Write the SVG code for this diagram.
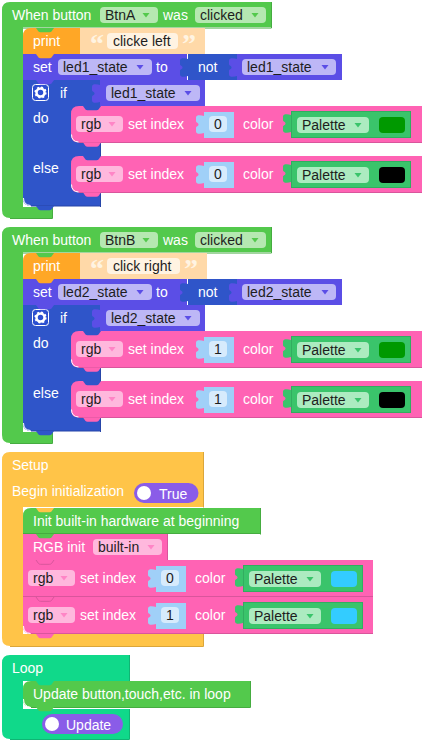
<svg xmlns="http://www.w3.org/2000/svg" xmlns:xlink="http://www.w3.org/1999/xlink" width="428" height="745" viewBox="0 0 428 745">
<style>
text{font-family:"Liberation Sans",Arial,sans-serif;font-size:14px;fill:#fff}
.d{fill:#1d1d1d}
.q{font-family:"Liberation Serif",serif;font-size:28px;font-weight:bold;fill:#fff4e2}
.fg{fill:#b5e8b1}.ag{fill:#53c94c}
.fp{fill:#bdb7f6}.ap{fill:#5b4ee6}
.fk{fill:#ffb8dd}.ak{fill:#ff85c6}
.fl{fill:#acebc0}.al{fill:#3ac46b}
.num{fill:#d7ebfc}
.hl{fill:none;stroke:#fff;stroke-width:1}
</style>
<defs>
<path id="tab" d="M0 0c-3-1-8-1.500-8 1.500v3.500c0 2 2.500 1.500 2.500 3.500s-2.500 1.500-2.500 3.500v3.500c0 3 5 2.500 8 1.500z"/>
<path id="tabd" d="M0 0l2.500 3.500q.8.800 2 .800h9q1.200 0 2-.800l2.500-3.500z"/>
<path id="arw" d="M-3.500 0h7l-3.500 4.500z"/>
<g id="gear"><rect x="0.500" y="0.500" width="16" height="16" rx="3" fill="#2b4fd0" stroke="#fff"/><circle cx="8.500" cy="8.500" r="4" fill="none" stroke="#fff" stroke-width="2.500"/><circle cx="8.500" cy="8.500" r="5.300" fill="none" stroke="#fff" stroke-width="1.600" stroke-dasharray="2 2.160"/></g>
<g id="rgbfields">
<rect x="5" y="10" width="47" height="16" rx="4" class="fk"/><text x="10" y="23" class="d">rgb</text><use href="#arw" x="41" y="16" class="ak"/>
<text x="57" y="23">set index</text>
<use href="#tab" x="133" y="10" fill="#a0d0f8"/><rect x="133" y="6" width="30" height="26" fill="#a0d0f8"/><rect x="138" y="10" width="18" height="16" rx="4" class="num"/>
<text x="172" y="23">color</text>
<use href="#tab" x="220" y="9" fill="#3ac46b"/><rect x="220.500" y="5.500" width="119" height="26" fill="#3ac46b" stroke="#32ad60" stroke-width="1"/>
<rect x="226" y="11" width="72" height="16" rx="4" class="fl"/><text x="231" y="24" class="d">Palette</text><use href="#arw" x="287" y="17" class="al"/>
</g>
<g id="ifbody">
<path d="M23 80H100V206H31q-8 0-8-8z" fill="#2f55c9"/>
<path class="hl" d="M23.500 198q0 7 7 7.500"/>
<rect x="31" y="205.500" width="69" height="1" fill="#2645a8"/><rect x="100" y="80" width="1" height="127" fill="#2645a8"/>
<use href="#gear" x="32" y="84"/>
<text x="60" y="98">if</text><text x="33" y="123">do</text><text x="33" y="173">else</text>
</g>
<path id="rowshape" d="M8 0H351V36.500H8q-8 0-8-8V8q0-8 8-8z" fill="#ff63b4"/>
<g id="rowedge"><rect x="8" y="36" width="343" height="1" fill="#d9559c"/><path class="hl" d="M.5 28.500q0 7 7 7.500"/></g>
</defs>

<g id="hat-a">
<path d="M10 2H271V27H23V207H52.500V218H10q-8 0-8-8V10q0-8 8-8z" fill="#53c94c"/>
<path d="M271.500 2v26H23M52.500 207v11.500H10" fill="none" stroke="#45ac40"/>
<text x="12" y="20">When button</text>
<rect x="100" y="7" width="58" height="16" rx="4" class="fg"/><text x="105" y="20" class="d">BtnA</text><use href="#arw" x="146" y="13" class="ag"/>
<text x="163" y="20">was</text>
<rect x="195" y="7" width="71" height="16" rx="4" class="fg"/><text x="200" y="20" class="d">clicked</text><use href="#arw" x="255" y="13" class="ag"/>
</g>
<g id="print-a">
<rect x="80" y="28" width="125" height="26" fill="#ffd9a8"/><use href="#tab" x="80" y="33" fill="#ffd9a8"/>
<path d="M31 28H80V54H23V36q0-8 8-8z" fill="#ffa726"/>
<use href="#tabd" x="36" y="28" fill="#53c94c"/>
<text x="33" y="46">print</text>
<text x="90" y="53" class="q">“</text>
<rect x="107" y="33" width="71" height="16" rx="4" fill="#fff3e2"/><text x="113" y="46" class="d">clicke left</text>
<text x="182" y="53" class="q">”</text>
</g>
<g id="set-a">
<rect x="23" y="54" width="164" height="26" fill="#5b4ee6"/>
<use href="#tabd" x="36" y="54" fill="#ffa726"/>
<text x="33" y="72">set</text>
<rect x="58" y="59" width="94" height="16" rx="4" class="fp"/><text x="63" y="72" class="d">led1_state</text><use href="#arw" x="140" y="65" class="ap"/>
<text x="156" y="72">to</text>
<use href="#tab" x="188" y="59" fill="#2f55c9"/><rect x="188" y="54" width="49" height="26" fill="#2f55c9"/>
<text x="198" y="72">not</text>
<use href="#tab" x="237" y="59" fill="#5b4ee6"/><rect x="237" y="54" width="105" height="26" fill="#5b4ee6"/>
<rect x="242" y="59" width="94" height="16" rx="4" class="fp"/><text x="247" y="72" class="d">led1_state</text><use href="#arw" x="325" y="65" class="ap"/>
</g>
<g id="if-a">
<use href="#ifbody"/>
<use href="#tabd" x="36" y="80" fill="#5b4ee6"/>
<use href="#tab" x="100" y="85" fill="#5b4ee6"/><rect x="100" y="80" width="105" height="26" fill="#5b4ee6"/>
<rect x="106" y="85" width="94" height="16" rx="4" class="fp"/><text x="111" y="98" class="d">led1_state</text><use href="#arw" x="188" y="91" class="ap"/>
<use href="#tabd" x="36" y="206" fill="#2f55c9"/>
</g>
<g id="rgb-a1" transform="translate(71 106)">
<use href="#rowshape"/><use href="#rowedge"/>
<use href="#tabd" x="12" y="0" fill="#2f55c9"/><use href="#tabd" x="12" y="36.500" fill="#ff63b4"/>
<use href="#rgbfields"/><text x="147" y="23" text-anchor="middle" class="d">0</text>
<rect x="308" y="11" width="26" height="16" rx="4" fill="#009900"/>
</g>
<g id="rgb-a2" transform="translate(71 156)">
<use href="#rowshape"/><use href="#rowedge"/>
<use href="#tabd" x="12" y="0" fill="#2f55c9"/><use href="#tabd" x="12" y="36.500" fill="#ff63b4"/>
<use href="#rgbfields"/><text x="147" y="23" text-anchor="middle" class="d">0</text>
<rect x="308" y="11" width="26" height="16" rx="4" fill="#000"/>
</g>

<g id="hat-b" transform="translate(0 225)">
<path d="M10 2H271V27H23V207H52.500V218H10q-8 0-8-8V10q0-8 8-8z" fill="#53c94c"/>
<path d="M271.500 2v26H23M52.500 207v11.500H10" fill="none" stroke="#45ac40"/>
<text x="12" y="20">When button</text>
<rect x="100" y="7" width="58" height="16" rx="4" class="fg"/><text x="105" y="20" class="d">BtnB</text><use href="#arw" x="146" y="13" class="ag"/>
<text x="163" y="20">was</text>
<rect x="195" y="7" width="71" height="16" rx="4" class="fg"/><text x="200" y="20" class="d">clicked</text><use href="#arw" x="255" y="13" class="ag"/>
</g>
<g id="print-b" transform="translate(0 225)">
<rect x="80" y="28" width="127" height="26" fill="#ffd9a8"/><use href="#tab" x="80" y="33" fill="#ffd9a8"/>
<path d="M31 28H80V54H23V36q0-8 8-8z" fill="#ffa726"/>
<use href="#tabd" x="36" y="28" fill="#53c94c"/>
<text x="33" y="46">print</text>
<text x="90" y="53" class="q">“</text>
<rect x="107" y="33" width="73" height="16" rx="4" fill="#fff3e2"/><text x="113" y="46" class="d">click right</text>
<text x="184" y="53" class="q">”</text>
</g>
<g id="set-b" transform="translate(0 225)">
<rect x="23" y="54" width="164" height="26" fill="#5b4ee6"/>
<use href="#tabd" x="36" y="54" fill="#ffa726"/>
<text x="33" y="72">set</text>
<rect x="58" y="59" width="94" height="16" rx="4" class="fp"/><text x="63" y="72" class="d">led2_state</text><use href="#arw" x="140" y="65" class="ap"/>
<text x="156" y="72">to</text>
<use href="#tab" x="188" y="59" fill="#2f55c9"/><rect x="188" y="54" width="49" height="26" fill="#2f55c9"/>
<text x="198" y="72">not</text>
<use href="#tab" x="237" y="59" fill="#5b4ee6"/><rect x="237" y="54" width="105" height="26" fill="#5b4ee6"/>
<rect x="242" y="59" width="94" height="16" rx="4" class="fp"/><text x="247" y="72" class="d">led2_state</text><use href="#arw" x="325" y="65" class="ap"/>
</g>
<g id="if-b" transform="translate(0 225)">
<use href="#ifbody"/>
<use href="#tabd" x="36" y="80" fill="#5b4ee6"/>
<use href="#tab" x="100" y="85" fill="#5b4ee6"/><rect x="100" y="80" width="105" height="26" fill="#5b4ee6"/>
<rect x="106" y="85" width="94" height="16" rx="4" class="fp"/><text x="111" y="98" class="d">led2_state</text><use href="#arw" x="188" y="91" class="ap"/>
<use href="#tabd" x="36" y="206" fill="#2f55c9"/>
</g>
<g id="rgb-b1" transform="translate(71 331)">
<use href="#rowshape"/><use href="#rowedge"/>
<use href="#tabd" x="12" y="0" fill="#2f55c9"/><use href="#tabd" x="12" y="36.500" fill="#ff63b4"/>
<use href="#rgbfields"/><text x="147" y="23" text-anchor="middle" class="d">1</text>
<rect x="308" y="11" width="26" height="16" rx="4" fill="#009900"/>
</g>
<g id="rgb-b2" transform="translate(71 381)">
<use href="#rowshape"/><use href="#rowedge"/>
<use href="#tabd" x="12" y="0" fill="#2f55c9"/><use href="#tabd" x="12" y="36.500" fill="#ff63b4"/>
<use href="#rgbfields"/><text x="147" y="23" text-anchor="middle" class="d">1</text>
<rect x="308" y="11" width="26" height="16" rx="4" fill="#000"/>
</g>

<g id="setup">
<path d="M10 452H203V507H23V634H203V646H10q-8 0-8-8V460q0-8 8-8z" fill="#ffc448"/>
<path d="M203.500 452v55.500M203.500 634v12.500H10" fill="none" stroke="#dba63a"/>
<text x="12" y="470">Setup</text>
<text x="12" y="496">Begin initialization</text>
<rect x="134" y="483" width="64.500" height="20" rx="10" fill="#8a5ce8"/><circle cx="144" cy="493" r="7" fill="#fff"/><text x="159" y="499">True</text>
</g>
<g id="init-hw">
<path d="M31 508H260V534H23V516q0-8 8-8z" fill="#53c94c"/><path d="M260.500 508v26.500M23 533.500h238" stroke="#45ac40" fill="none"/>
<use href="#tabd" x="36" y="508" fill="#ffc448"/>
<text x="33" y="526">Init built-in hardware at beginning</text>
</g>
<g id="rgb-init">
<rect x="23" y="534" width="144" height="26" fill="#ff63b4"/><path d="M167.500 534v26" stroke="#d9559c" fill="none"/>
<use href="#tabd" x="36" y="534" fill="#53c94c"/>
<text x="33" y="552">RGB init</text>
<rect x="93" y="539" width="69" height="16" rx="4" class="fk"/><text x="98" y="552" class="d">built-in</text><use href="#arw" x="151" y="545" class="ak"/>
</g>
<g id="rgb-s1" transform="translate(23 560)">
<rect width="350" height="37" fill="#ff63b4"/><rect y="36" width="350" height="1" fill="#d9559c"/>
<path d="M13 0l2.500 3.500q.8.800 2 .800h9q1.200 0 2-.800l2.500-3.500" fill="none" stroke="#d9559c"/>
<use href="#rgbfields"/><text x="147" y="23" text-anchor="middle" class="d">0</text>
<rect x="308" y="11" width="26" height="16" rx="4" fill="#33ccff"/>
</g>
<g id="rgb-s2" transform="translate(23 597)">
<path d="M0 0H350V37H8q-8 0-8-8z" fill="#ff63b4"/><rect x="8" y="36" width="342" height="1" fill="#d9559c"/>
<path class="hl" d="M.5 29q0 7 7 7.500"/>
<path d="M13 0l2.500 3.500q.8.800 2 .800h9q1.200 0 2-.800l2.500-3.500" fill="none" stroke="#d9559c"/>
<use href="#tabd" x="13" y="37" fill="#ff63b4"/>
<use href="#rgbfields"/><text x="147" y="23" text-anchor="middle" class="d">1</text>
<rect x="308" y="11" width="26" height="16" rx="4" fill="#33ccff"/>
</g>

<g id="loop">
<path d="M10 655H129V681H23V709H129V739H10q-8 0-8-8V663q0-8 8-8z" fill="#10d98a"/>
<path d="M129.500 655v26.500M129.500 709v30.500H10" fill="none" stroke="#0fb574"/>
<text x="12" y="673">Loop</text>
<rect x="42" y="714" width="81" height="20" rx="10" fill="#8a5ce8"/><circle cx="52" cy="724" r="7" fill="#fff"/><text x="66" y="730">Update</text>
</g>
<g id="update-hw">
<path d="M31 681H250V707H31q-8 0-8-8V689q0-8 8-8z" fill="#53c94c"/><path d="M250.500 681v26.500H31" stroke="#45ac40" fill="none"/>
<path class="hl" d="M23.500 699q0 7 7 8.500"/>
<use href="#tabd" x="36" y="681" fill="#10d98a"/><use href="#tabd" x="36" y="707" fill="#53c94c"/>
<text x="33" y="699">Update button,touch,etc. in loop</text>
</g>
</svg>
